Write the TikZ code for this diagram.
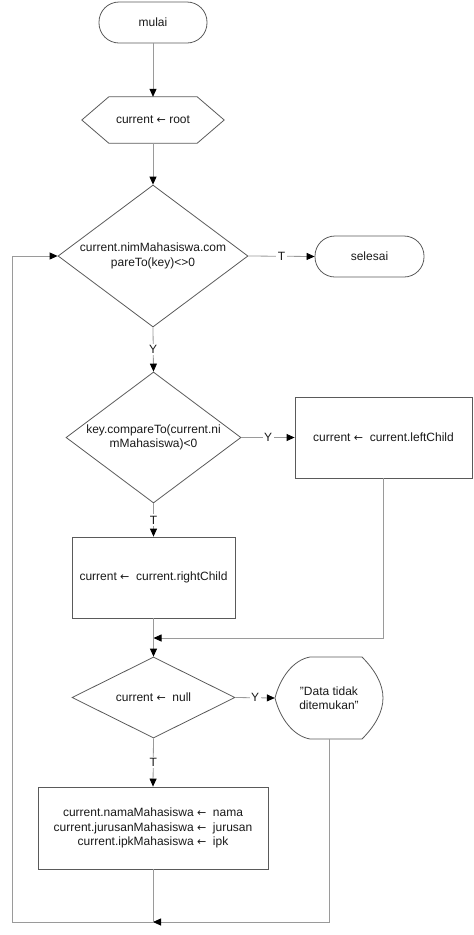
\documentclass[tikz,border=0pt]{standalone}
\usepackage{fontspec}
\setmainfont{Liberation Sans}
\newfontfamily\arrowfont{DejaVu Sans}
\newcommand{\larr}{{\arrowfont\fontsize{11}{12}\selectfont ←}}
\usetikzlibrary{arrows.meta,shapes.geometric}
\definecolor{shapecol}{HTML}{5A5A5A}
\definecolor{linecol}{HTML}{9A9A9A}
\begin{document}
\begin{tikzpicture}[x=1pt,y=-1pt,
  every node/.style={font=\fontsize{12}{14.5}\selectfont, text=black!90},
  shp/.style={draw=shapecol, line width=0.8pt},
  term/.style={shp, rounded corners=20pt, minimum width=108pt, minimum height=41pt, inner sep=0pt},
  proc/.style={shp, rectangle, inner sep=0pt, align=center},
  dec/.style={shp, diamond, inner sep=0pt},
  ghost/.style={inner sep=0pt, align=center},
  conn/.style={draw=linecol, line width=0.8pt, -{Triangle[length=8pt,width=7pt,color=black]}},
  plain/.style={draw=linecol, line width=0.8pt},
  lbl/.style={fill=white, inner sep=1.5pt}]
\useasboundingbox (0,0) rectangle (474,935);

% nodes
\node[term] (start) at (153,22.5) {mulai};
\node[ghost, minimum width=142pt, minimum height=46pt] (init) at (153,120) {current \larr{} root};
\draw[shp] (init.west) -- ([xshift=27pt]init.north west) -- ([xshift=-27pt]init.north east)
  -- (init.east) -- ([xshift=-27pt]init.south east) -- ([xshift=27pt]init.south west) -- cycle;

\node[dec, minimum width=190pt, minimum height=142pt] (d1) at (153,256) {};
\node[ghost] (d1t) at (d1.center) {current.nimMahasiswa.com\\pareTo(key)<>0};

\node[term, minimum width=109pt] (stop) at (369.5,256.5) {selesai};

\node[dec, minimum width=175pt, minimum height=131pt] (d2) at (153.5,437.5) {};
\node[ghost] (d2t) at (d2.center) {key.compareTo(current.ni\\mMahasiswa)<0};

\node[proc, minimum width=177pt, minimum height=81pt] (lc) at (383.5,437.5) {current \larr\ \ current.leftChild};
\node[proc, minimum width=163pt, minimum height=81pt] (rc) at (153.5,577.5) {current \larr\ \ current.rightChild};

\node[dec, minimum width=163pt, minimum height=81pt] (d3) at (153.5,697.5) {};
\node[ghost] (d3t) at (d3.center) {current \larr\ \ null};

\node[ghost, minimum width=108pt, minimum height=82pt] (disp) at (329,698) {"Data tidak\\ditemukan"};
\begin{scope}[shift={(disp.center)}]
\draw[shp] (-19,-41) -- (33,-41)
  .. controls (46,-28) and (54,-14) .. (54,0)
  .. controls (54,14) and (46,28) .. (33,41)
  -- (-19,41)
  .. controls (-36,38) and (-49,20) .. (-54,0)
  .. controls (-49,-20) and (-36,-38) .. (-19,-41) -- cycle;
\end{scope}

\node[proc, minimum width=230pt, minimum height=82pt] (asg) at (153,828)
  {current.namaMahasiswa \larr\ \ nama\\current.jurusanMahasiswa \larr\ \ jurusan\\current.ipkMahasiswa \larr\ \ ipk};

\coordinate (merge) at (153.5,638);
\coordinate (bot) at (153,922);
\coordinate (loop) at (12,922);

% connectors
\draw[conn] (start.south) -- (init.north);
\draw[conn] (init.south) -- (d1.north);
\draw[conn] (d1.east) -- node[lbl]{T} (stop.west);
\draw[conn] (d1.south) -- node[lbl]{Y} (d2.north);
\draw[conn] (d2.east) -- node[lbl]{Y} (lc.west);
\draw[conn] (d2.south) -- node[lbl]{T} (rc.north);
\draw[conn] (lc.south) |- (merge);
\draw[conn] (rc.south) -- (d3.north);
\draw[conn] (d3.east) -- node[lbl]{Y} (disp.west);
\draw[conn] (d3.south) -- node[lbl]{T} (asg.north);
\draw[conn] (disp.south) |- (bot);
\draw[plain] (asg.south) -- (bot) -- (loop);
\draw[conn] (loop) |- (d1.west);
\end{tikzpicture}
\end{document}
